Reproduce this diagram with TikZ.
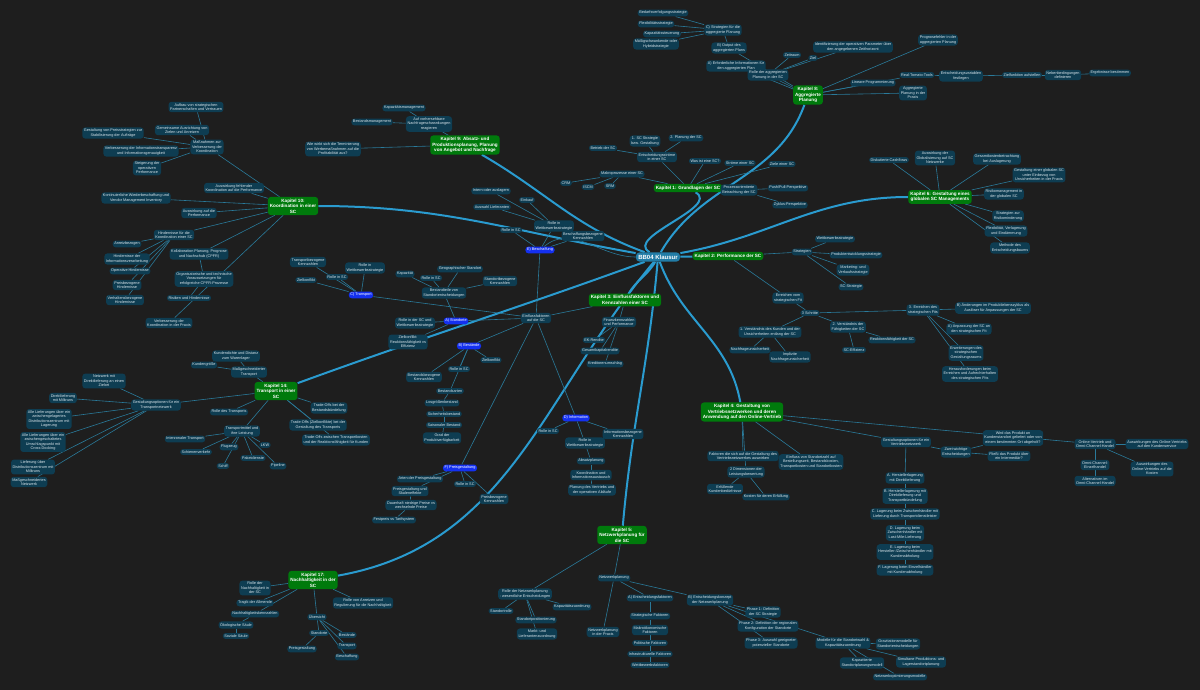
\documentclass[tikz,border=0pt]{standalone}
\usepackage{fontspec}
\setmainfont{Liberation Sans}
\usetikzlibrary{backgrounds}
\definecolor{bg}{HTML}{1E1E1E}
\definecolor{nodec}{HTML}{0E3D52}
\definecolor{txt}{HTML}{D8E4EA}
\definecolor{chap}{HTML}{007A0C}
\definecolor{blu}{HTML}{1430F0}
\definecolor{ln}{HTML}{2A7A9A}
\definecolor{main}{HTML}{2A9BCF}
\begin{document}
\begin{tikzpicture}[x=1pt,y=-1pt,
 b/.style={fill=nodec,rounded corners=3pt,text=txt,align=center,inner sep=1.6pt,font=\fontsize{3.8}{4.4}\selectfont},
 ch/.style={fill=chap,rounded corners=3pt,text=white,align=center,inner sep=2pt,font=\fontsize{4.6}{5.4}\selectfont\bfseries},
 bl/.style={b,fill=blu,text=white},
 e/.style={draw=ln,line width=0.6pt},
 m/.style={draw=main,line width=2pt}]
\useasboundingbox (0,0) rectangle (1200,690);
\begin{scope}[on background layer]\fill[bg] (0,0) rectangle (1200,690);\end{scope}
% root
\node[fill=main!80!black,rounded corners=4pt,text=white,font=\fontsize{6}{7}\selectfont\bfseries,inner sep=2.5pt] (R) at (658,257) {BB04 Klausur};
% Kapitel 1
\node[ch] (K1) at (688,188) {Kapitel 1: Grundlagen der SC};
\node[b] (k1a) at (657,157) {Entscheidungsströme\\in einer SC};
\node[b] (k1a1) at (645,141) {1. SC Strategie\\bzw. Gestaltung};
\node[b] (k1a2) at (686,138) {2. Planung der SC};
\node[b] (k1a3) at (603,148) {Betrieb der SC};
\node[b] (k1b) at (705,161) {Was ist eine SC?};
\node[b] (k1c) at (740,163) {Ströme einer SC};
\node[b] (k1d) at (782,164) {Ziele einer SC};
\node[b] (k1e) at (622,174) {Makroprozesse einer SC};
\node[b] (k1e1) at (566,183) {CRM};
\node[b] (k1e2) at (588,187) {ISCM};
\node[b] (k1e3) at (610,186) {SRM};
\node[b] (k1f) at (739,190) {Prozessorientierte\\Betrachtung der SC};
\node[b] (k1f1) at (788,188) {Push/Pull-Perspektive};
\node[b] (k1f2) at (790,205) {Zyklus-Perspektive};
% Kapitel 8
\node[ch] (K8) at (808,95) {Kapitel 8:\\Aggregierte\\Planung};
\node[b] (k8a) at (736,66) {A) Erforderliche Informationen für\\den aggregierten Plan};
\node[b] (k8b) at (729,48) {B) Output des\\aggregierten Plans};
\node[b] (k8c) at (723,30) {C) Strategien für die\\aggregierte Planung};
\node[b] (k8c1) at (663,13) {Bedarfsverfolgungsstrategie};
\node[b] (k8c2) at (656,24) {Flexibilitätsstrategie};
\node[b] (k8c3) at (662,34) {Kapazitätssteuerung};
\node[b] (k8c4) at (656,44) {Mäßigschwankende oder\\Hybridstrategie};
\node[b] (k8d) at (768,75) {Rolle der aggregierten\\Planung in der SC};
\node[b] (k8d1) at (792,55) {Zeitraum};
\node[b] (k8d2) at (813,58) {Ziel};
\node[b] (k8d3) at (853,47) {Identifizierung der operativen Parameter über\\den angegebenen Zeithorizont};
\node[b] (k8e) at (938,40) {Prognosefehler in der\\aggregierten Planung};
\node[b] (k8f) at (873,83) {Lineare Programmierung};
\node[b] (k8g) at (917,75) {Real-Tomato-Tools};
\node[b] (k8g1) at (961,76) {Entscheidungsvariablen\\festlegen};
\node[b] (k8g2) at (1022,75) {Zielfunktion aufstellen};
\node[b] (k8g3) at (1063,75) {Nebenbedingungen\\definieren};
\node[b] (k8g4) at (1110,73) {Ergebnisse bestimmen};
\node[b] (k8h) at (913,93) {Aggregierte\\Planung in der\\Praxis};
% Kapitel 6
\node[ch] (K6) at (940,197) {Kapitel 6: Gestaltung eines\\globalen SC Managements};
\node[b] (k6a) at (889,160) {Diskutierte Cashflows};
\node[b] (k6b) at (935,158) {Auswirkung der\\Globalisierung auf SC\\Netzwerke};
\node[b] (k6c) at (997,159) {Gesamtkostenbetrachtung\\bei Auslagerung};
\node[b] (k6d) at (1039,175) {Gestaltung einer globalen SC\\unter Einbezug von\\Unsicherheiten in der Praxis};
\node[b] (k6e) at (1004,194) {Risikomanagement in\\der globalen SC};
\node[b] (k6f) at (1008,216) {Strategien zur\\Risikominderung};
\node[b] (k6g) at (1006,231) {Flexibilität, Verlagerung\\und Eindämmung};
\node[b] (k6h) at (1010,248) {Methode des\\Entscheidungsbaums};
% Kapitel 2
\node[ch] (K2) at (728,256) {Kapitel 2: Performance der SC};
\node[b] (k2a) at (802,252) {Strategien};
\node[b] (k2a1) at (835,239) {Wettbewerbsstrategie};
\node[b] (k2a2) at (856,255) {Produktentwicklungsstrategie};
\node[b] (k2a3) at (853,270) {Marketing- und\\Verkaufsstrategie};
\node[b] (k2a4) at (851,287) {SC-Strategie};
\node[b] (k2b) at (788,298) {Erreichen vom\\strategischen Fit};
\node[b] (k2c) at (810,313) {3 Schritte};
\node[b] (k2c1) at (770,332) {1. Verständnis des Kunden und der\\Unsicherheiten entlang der SC};
\node[b] (k2c11) at (750,350) {Nachfrageunsicherheit};
\node[b] (k2c12) at (790,357) {Implizite\\Nachfrageunsicherheit};
\node[b] (k2c2) at (848,327) {2. Verständnis der\\Fähigkeiten der SC};
\node[b] (k2c21) at (892,340) {Reaktionsfähigkeit der SC};
\node[b] (k2c22) at (854,350) {SC-Effizienz};
\node[b] (k2c3) at (923,310) {3. Erreichen des\\strategischen Fits};
\node[b] (k2c31) at (993,308) {B) Änderungen im Produktlebenszyklus als\\Auslöser für Anpassungen der SC};
\node[b] (k2c32) at (969,329) {A) Anpassung der SC an\\den strategischen Fit};
\node[b] (k2c33) at (966,353) {Erweiterungen des\\strategischen\\Gestaltungsraums};
\node[b] (k2c34) at (970,374) {Herausforderungen beim\\Erreichen und Aufrechterhalten\\des strategischen Fits};
% Kapitel 3
\node[ch] (K3) at (625,300) {Kapitel 3: Einflussfaktoren und\\Kennzahlen einer SC};
\node[b] (k3a) at (619,322) {Finanzkennzahlen\\und Performance};
\node[b] (k3a1) at (594,340) {EK-Rendite};
\node[b] (k3a2) at (600,351) {Gesamtkapitalrendite};
\node[b] (k3a3) at (605,364) {Kreditorenumschlag};
\node[b] (EF) at (536,318) {Einflussfaktoren\\auf die SC};
\node[bl] (A) at (456,321) {A) Standorte};
\node[bl] (B) at (469,346) {B) Bestände};
\node[bl] (C) at (361,295) {C) Transport};
\node[bl] (D) at (576,418) {D) Information};
\node[bl] (E) at (540,250) {E) Beschaffung};
\node[bl] (F) at (460,468) {F) Preisgestaltung};
\node[b] (a1) at (444,293) {Bestandteile von\\Standortentscheidungen};
\node[b] (a11) at (431,278) {Rolle in SC};
\node[b] (a12) at (460,269) {Geographischer Standort};
\node[b] (a13) at (500,281) {Standortbezogene\\Kennzahlen};
\node[b] (a14) at (405,274) {Kapazität};
\node[b] (a2) at (415,323) {Rolle in der SC und\\Wettbewerbsstrategie};
\node[b] (a3) at (408,342) {Zielkonflikt:\\Reaktionsfähigkeit vs\\Effizienz};
\node[b] (b1) at (491,360) {Zielkonflikt};
\node[b] (b2) at (459,369) {Rolle in SC};
\node[b] (b3) at (424,377) {Bestandsbezogene\\Kennzahlen};
\node[b] (b4) at (450,391) {Bestandsarten};
\node[b] (b41) at (442,403) {Losgrößenbestand};
\node[b] (b42) at (444,414) {Sicherheitsbestand};
\node[b] (b43) at (444,425) {Saisonaler Bestand};
\node[b] (b44) at (442,438) {Grad der\\Produktverfügbarkeit};
\node[b] (c1) at (308,262) {Transportbezogene\\Kennzahlen};
\node[b] (c2) at (365,268) {Rolle in\\Wettbewerbsstrategie};
\node[b] (c3) at (337,277) {Rolle in SC};
\node[b] (c4) at (306,280) {Zielkonflikt};
\node[b] (d1) at (548,431) {Rolle in SC};
\node[b] (d2) at (623,434) {Informationsbezogene\\Kennzahlen};
\node[b] (d3) at (585,443) {Rolle in\\Wettbewerbsstrategie};
\node[b] (d4) at (591,461) {Absatzplanung};
\node[b] (d5) at (591,475) {Koordination und\\Informationsaustausch};
\node[b] (d6) at (592,490) {Planung des Vertriebs und\\der operativen Abläufe};
\node[b] (e1) at (511,230) {Rolle in SC};
\node[b] (e2) at (554,226) {Rolle in\\Wettbewerbsstrategie};
\node[b] (e21) at (491,191) {Intern oder auslagern};
\node[b] (e22) at (492,207) {Auswahl Lieferanten};
\node[b] (e23) at (527,200) {Einkauf};
\node[b] (e3) at (583,236) {Beschaffungsbezogene\\Kennzahlen};
\node[b] (f1) at (420,479) {Arten der Preisgestaltung};
\node[b] (f2) at (465,484) {Rolle in SC};
\node[b] (f3) at (410,491) {Preisgestaltung und\\Skaleneffekte};
\node[b] (f4) at (411,505) {Dauerhaft niedrige Preise vs\\wechselnde Preise};
\node[b] (f5) at (394,520) {Festpreis vs Tarifsystem};
\node[b] (f6) at (494,499) {Preisbezogene\\Kennzahlen};
% Kapitel 9
\node[ch] (K9) at (465,145) {Kapitel 9: Absatz- und\\Produktionsplanung, Planung\\von Angebot und Nachfrage};
\node[b] (k9a) at (333,149) {Wie wirkt sich die Terminierung\\von Werbemaßnahmen auf die\\Profitabilität aus?};
\node[b] (k9b) at (372,122) {Bestandsmanagement};
\node[b] (k9c) at (429,124) {Auf vorhersehbare\\Nachfrageschwankungen\\reagieren};
\node[b] (k9d) at (404,108) {Kapazitätsmanagement};
% Kapitel 10
\node[ch] (K10) at (293,206) {Kapitel 10:\\Koordination in einer\\SC};
\node[b] (t1) at (207,147) {Maßnahmen zur\\Verbesserung der\\Koordination};
\node[b] (t11) at (196,107) {Aufbau von strategischen\\Partnerschaften und Vertrauen};
\node[b] (t12) at (182,130) {Gemeinsame Ausrichtung von\\Zielen und Anreizen};
\node[b] (t13) at (113,133) {Gestaltung von Preisstrategien zur\\Stabilisierung der Aufträge};
\node[b] (t14) at (141,151) {Verbesserung der Informationstransparenz\\und Informationsgenauigkeit};
\node[b] (t15) at (147,168) {Steigerung der\\operativen\\Performance};
\node[b] (t2) at (234,188) {Auswirkung fehlender\\Koordination auf die Performance};
\node[b] (t3) at (136,198) {Kontinuierliche Wiederbeschaffung und\\Vendor Management Inventory};
\node[b] (t4) at (199,213) {Auswirkung auf die\\Performance};
\node[b] (t5) at (174,235) {Hindernisse für die\\Koordination einer SC};
\node[b] (t51) at (127,244) {Anreizbezogen};
\node[b] (t52) at (127,259) {Hindernisse der\\Informationsverarbeitung};
\node[b] (t53) at (130,271) {Operative Hindernisse};
\node[b] (t54) at (127,285) {Preisbezogene\\Hindernisse};
\node[b] (t55) at (125,300) {Verhaltensbezogene\\Hindernisse};
\node[b] (t6) at (199,254) {Kollaboration Planung, Prognose\\und Nachschub (CPFR)};
\node[b] (t7) at (204,279) {Organisatorische und technische\\Voraussetzungen für\\erfolgreiche CPFR-Prozesse};
\node[b] (t8) at (189,298) {Risiken und Hindernisse};
\node[b] (t9) at (169,323) {Verbesserung der\\Koordination in der Praxis};
% Kapitel 14
\node[ch] (K14) at (276,391) {Kapitel 14:\\Transport in einer\\SC};
\node[b] (p1) at (249,372) {Maßgeschneiderter\\Transport};
\node[b] (p11) at (236,356) {Kundendichte und Distanz\\zum Warenlager};
\node[b] (p12) at (204,365) {Kundengröße};
\node[b] (p2) at (156,405) {Gestaltungsoptionen für ein\\Transportnetzwerk};
\node[b] (p21) at (104,381) {Netzwerk mit\\Direktlieferung an einen\\Zielort};
\node[b] (p22) at (63,398) {Direktlieferung\\mit Milkruns};
\node[b] (p23) at (49,419) {Alle Lieferungen über ein\\zwischengelagertes\\Distributionszentrum mit\\Lagerung};
\node[b] (p24) at (43,442) {Alle Lieferungen über ein\\zwischengeschaltetes\\Umschlagspunkt mit\\Cross-Docking};
\node[b] (p25) at (33,467) {Lieferung über\\Distributionszentrum mit\\Milkruns};
\node[b] (p26) at (29,482) {Maßgeschneidertes\\Netzwerk};
\node[b] (p3) at (229,412) {Rolle des Transports};
\node[b] (p4) at (242,431) {Transportmittel und\\ihre Leistung};
\node[b] (p41) at (185,439) {Interzonaler Transport};
\node[b] (p42) at (229,447) {Flugzeug};
\node[b] (p43) at (196,452) {Schienenverkehr};
\node[b] (p44) at (265,445) {LKW};
\node[b] (p45) at (253,458) {Paketdienste};
\node[b] (p46) at (223,466) {Schiff};
\node[b] (p47) at (278,466) {Pipeline};
\node[b] (p5) at (329,408) {Trade-Offs bei der\\Bestandsbündelung};
\node[b] (p6) at (318,425) {Trade-Offs (Zielkonflikte) bei der\\Gestaltung des Transports};
\node[b] (p7) at (336,440) {Trade-Offs zwischen Transportkosten\\und der Reaktionsfähigkeit für Kunden};
% Kapitel 17
\node[ch] (K17) at (313,580) {Kapitel 17:\\Nachhaltigkeit in der\\SC};
\node[b] (n1) at (255,588) {Rolle der\\Nachhaltigkeit in\\der SC};
\node[b] (n2) at (255,603) {Tragik der Allmende};
\node[b] (n3) at (255,614) {Nachhaltigkeitskennzahlen};
\node[b] (n31) at (236,625) {Ökologische Säule};
\node[b] (n32) at (236,636) {Soziale Säule};
\node[b] (n4) at (363,603) {Rolle von Anreizen und\\Regulierung für die Nachhaltigkeit};
\node[b] (n5) at (317,617) {Übersicht};
\node[b] (n51) at (319,633) {Standorte};
\node[b] (n52) at (347,635) {Bestände};
\node[b] (n53) at (347,646) {Transport};
\node[b] (n54) at (347,657) {Beschaffung};
\node[b] (n55) at (302,649) {Preisgestaltung};
% Kapitel 4
\node[ch] (K4) at (742,412) {Kapitel 4: Gestaltung von\\Vertriebsnetzwerken und deren\\Anwendung auf den Online-Vertrieb};
\node[b] (v1) at (743,456) {Faktoren die sich auf die Gestaltung des\\Vertriebsnetzwerkes auswirken};
\node[b] (v2) at (811,462) {Einfluss von Standortzahl auf\\Bestellungszeit, Bestandskosten,\\Transportkosten und Standortkosten};
\node[b] (v3) at (746,472) {2 Dimensionen der\\Leistungsbewertung};
\node[b] (v31) at (725,489) {Erfüllende\\Kundenbedürfnisse};
\node[b] (v32) at (766,497) {Kosten für deren Erfüllung};
\node[b] (v4) at (906,442) {Gestaltungsoptionen für ein\\Vertriebsnetzwerk};
\node[b] (v41) at (956,452) {Zwei wichtige\\Entscheidungen};
\node[b] (v411) at (1013,438) {Wird das Produkt an\\Kundenstandort geliefert oder von\\einem bestimmten Ort abgeholt?};
\node[b] (v412) at (1009,456) {Fließt das Produkt über\\ein Intermediär?};
\node[b] (vA) at (905,478) {A. Herstellerlagerung\\mit Direktlieferung};
\node[b] (vB) at (905,496) {B. Herstellerlagerung mit\\Direktlieferung und\\Transportbündelung};
\node[b] (vC) at (905,514) {C. Lagerung beim Zwischenhändler mit\\Lieferung durch Transportdienstleister};
\node[b] (vD) at (905,533) {D. Lagerung beim\\Zwischenhändler mit\\Last-Mile-Lieferung};
\node[b] (vE) at (905,552) {E. Lagerung beim\\Hersteller-/Zwischenhändler mit\\Kundenabholung};
\node[b] (vF) at (905,570) {F. Lagerung beim Einzelhändler\\mit Kundenabholung};
\node[b] (v5) at (1095,444) {Online-Vertrieb und\\Omni-Channel-Handel};
\node[b] (v51) at (1157,444) {Auswirkungen des Online-Vertriebs\\auf den Kundenservice};
\node[b] (v52) at (1095,465) {Omni-Channel-\\Einzelhandel};
\node[b] (v53) at (1095,481) {Alternativen im\\Omni-Channel-Handel};
\node[b] (v54) at (1152,469) {Auswirkungen des\\Online-Vertriebs auf die\\Kosten};
% Kapitel 5
\node[ch] (K5) at (622,535) {Kapitel 5:\\Netzwerkplanung für\\die SC};
\node[b] (w1) at (525,594) {Rolle der Netzwerkplanung\\- wesentliche Entscheidungen};
\node[b] (w11) at (501,611) {Standortrolle};
\node[b] (w12) at (536,620) {Standortpositionierung};
\node[b] (w13) at (572,607) {Kapazitätszuordnung};
\node[b] (w14) at (537,634) {Markt- und\\Lieferantenzuordnung};
\node[b] (w2) at (614,578) {Netzwerkplanung};
\node[b] (w21) at (603,632) {Netzwerkplanung\\in der Praxis};
\node[b] (w22) at (650,598) {A) Entscheidungsfaktoren};
\node[b] (w221) at (650,616) {Strategische Faktoren};
\node[b] (w222) at (650,630) {Makroökonomische\\Faktoren};
\node[b] (w223) at (650,643) {Politische Faktoren};
\node[b] (w224) at (650,654) {Infrastrukturelle Faktoren};
\node[b] (w225) at (650,665) {Wettbewerbsfaktoren};
\node[b] (w23) at (710,600) {B) Entscheidungskonzept\\der Netzwerkplanung};
\node[b] (w231) at (763,612) {Phase 1: Definition\\der SC Strategie};
\node[b] (w232) at (768,626) {Phase 2: Definition der regionalen\\Konfiguration der Standorte};
\node[b] (w233) at (771,643) {Phase 3: Auswahl geeigneter\\potenzieller Standorte};
\node[b] (w234) at (843,643) {Modelle für die Standortwahl \&\\Kapazitätszuordnung};
\node[b] (w2341) at (898,644) {Gravitationsmodelle für\\Standortentscheidungen};
\node[b] (w2342) at (862,663) {Kapazitierte\\Standortplanungsmodell};
\node[b] (w2343) at (921,662) {Simultane Produktions- und\\Lagerstandortplanung};
\node[b] (w2344) at (900,677) {Netzwerkoptimierungsmodelle};
% edges
\begin{scope}[on background layer]
\draw[m] (R) to[out=150,in=-30] (K1);
\draw[m] (R) to[out=60,in=-110] (K8);
\draw[m] (R) to[out=10,in=180] (K6);
\draw[m] (R) -- (K2);
\draw[m] (R) to[out=-120,in=60] (K3);
\draw[m] (R) to[out=-70,in=100] (K4);
\draw[m] (R) to[out=-95,in=85] (K5);
\draw[m] (R) to[out=160,in=-30] (K9);
\draw[m] (R) to[out=170,in=0] (K10);
\draw[m] (R) to[out=-160,in=20] (K14);
\draw[m] (R) to[out=-130,in=10] (K17);
\draw[e] (R) to[out=180,in=40] (E);
\foreach \a/\b in {K1/k1a,k1a/k1a1,k1a/k1a2,k1a/k1a3,K1/k1b,K1/k1c,K1/k1d,K1/k1e,k1e/k1e1,k1e/k1e2,k1e/k1e3,K1/k1f,k1f/k1f1,k1f/k1f2,
K8/k8a,K8/k8b,k8b/k8c,k8c/k8c1,k8c/k8c2,k8c/k8c3,k8c/k8c4,K8/k8d,k8d/k8d1,k8d/k8d2,k8d/k8d3,K8/k8e,K8/k8f,K8/k8g,k8g/k8g1,k8g1/k8g2,k8g2/k8g3,k8g3/k8g4,K8/k8h,
K6/k6a,K6/k6b,K6/k6c,K6/k6d,K6/k6e,K6/k6f,K6/k6g,K6/k6h,
K2/k2a,k2a/k2a1,k2a/k2a2,k2a/k2a3,k2a/k2a4,K2/k2b,k2b/k2c,k2c/k2c1,k2c1/k2c11,k2c1/k2c12,k2c/k2c2,k2c2/k2c21,k2c2/k2c22,k2c/k2c3,k2c3/k2c31,k2c3/k2c32,k2c3/k2c33,k2c3/k2c34,
K3/k3a,k3a/k3a1,k3a/k3a2,k3a/k3a3,K3/EF,EF/A,EF/B,EF/C,EF/D,EF/E,EF/F,
A/a1,a1/a11,a1/a12,a1/a13,a1/a14,A/a2,A/a3,B/b1,B/b2,B/b3,B/b4,b4/b41,b41/b42,b42/b43,b43/b44,
C/c1,C/c2,C/c3,C/c4,D/d1,D/d2,D/d3,d3/d4,d4/d5,d5/d6,E/e1,E/e2,e2/e21,e2/e22,e2/e23,E/e3,
F/f1,F/f2,F/f3,f3/f4,f4/f5,F/f6,
K9/k9a,K9/k9c,k9c/k9b,k9c/k9d,
K10/t1,t1/t11,t1/t12,t1/t13,t1/t14,t1/t15,K10/t2,K10/t3,K10/t4,K10/t5,t5/t51,t5/t52,t5/t53,t5/t54,t5/t55,K10/t6,t6/t7,t7/t8,K10/t9,
K14/p1,p1/p11,p1/p12,K14/p2,p2/p21,p2/p22,p2/p23,p2/p24,p2/p25,p2/p26,K14/p3,K14/p4,p4/p41,p4/p42,p4/p43,p4/p44,p4/p45,p4/p46,p4/p47,K14/p5,K14/p6,K14/p7,
K17/n1,K17/n2,K17/n3,n3/n31,n31/n32,K17/n4,K17/n5,n5/n51,n5/n52,n5/n53,n5/n54,n51/n55,
K4/v1,K4/v2,K4/v3,v3/v31,v3/v32,K4/v4,v4/v41,v41/v411,v41/v412,v4/vA,vA/vB,vB/vC,vC/vD,vD/vE,vE/vF,K4/v5,v5/v51,v5/v52,v52/v53,v5/v54,
K5/w1,w1/w11,w1/w12,w1/w13,w1/w14,K5/w2,w2/w21,w2/w22,w22/w221,w221/w222,w222/w223,w223/w224,w224/w225,w2/w23,w23/w231,w23/w232,w23/w233,w23/w234,w234/w2341,w234/w2342,w234/w2343,w234/w2344}
 \draw[e] (\a) -- (\b);
\end{scope}
\end{tikzpicture}
\end{document}
